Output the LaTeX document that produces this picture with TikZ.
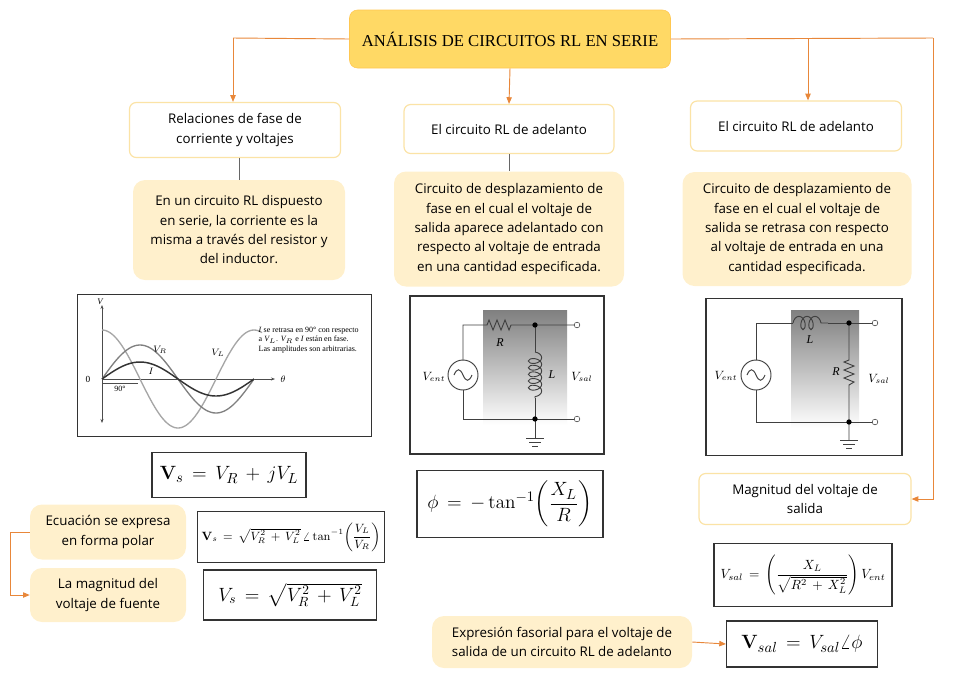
\documentclass[tikz,border=0pt]{standalone}
\usepackage{amsmath}
\usepackage[no-math]{fontspec}
\setmainfont{Open Sans}
\newfontfamily\titlefont{Liberation Serif}
\newfontfamily\serifp{Liberation Serif}
\usetikzlibrary{arrows.meta,decorations.pathmorphing}
\definecolor{org}{HTML}{E8873A}
\definecolor{ttl}{HTML}{FFD965}
\definecolor{bord}{HTML}{FBE3A6}
\definecolor{cream}{HTML}{FFF0CC}
\definecolor{shade}{HTML}{C8C8C8}
\tikzset{
 wbox/.style={draw=bord,line width=0.9pt,fill=white,rounded corners=5pt,align=center,font=\fontsize{10}{14.5}\selectfont},
 cbox/.style={fill=cream,rounded corners=9pt,align=center,font=\fontsize{10}{14.5}\selectfont},
 eqbox/.style={draw=black!80,line width=0.8pt,fill=white},
 conn/.style={org,line width=0.7pt},
 arr/.style={org,line width=0.7pt,-{Triangle[length=5pt,width=4pt]}},
 thin/.style={black!60,line width=0.6pt},
 wire/.style={black!75,line width=0.7pt},
 dotn/.style={circle,fill=black,inner sep=1.4pt},
 term/.style={circle,draw=black!75,fill=white,inner sep=1.5pt},
}
\begin{document}
\begin{tikzpicture}[x=0.75pt,y=-0.75pt]
\useasboundingbox (0,0) rectangle (963,676);
% title
\node[fill=ttl,draw=ttl!80!orange,rounded corners=6pt,minimum width=321*0.75pt,minimum height=58*0.75pt,font=\titlefont\fontsize{12.5}{14}\selectfont] (title) at (510,39) {ANÁLISIS DE CIRCUITOS RL EN SERIE};
% level-1 boxes
\node[wbox,minimum width=211*0.75pt,minimum height=55*0.75pt] (b1) at (235,130) {Relaciones de fase de\\corriente y voltajes};
\node[wbox,minimum width=210*0.75pt,minimum height=49*0.75pt] (b2) at (509,129) {El circuito RL de adelanto};
\node[wbox,minimum width=211*0.75pt,minimum height=50*0.75pt] (b3) at (796,126) {El circuito RL de adelanto};
\coordinate (tl) at (233,38); \coordinate (tr) at (808,38); \coordinate (tr2) at (933,38);
\draw[conn] (title.west) -- (tl);
\draw[arr] (tl) -- (b1.north -| tl);
\draw[arr] (title.south) -- (b2.north);
\draw[conn] (title.east) -- (tr2);
\draw[arr] (tr) -- (b3.north -| tr);
% desc boxes
\node[cbox,minimum width=212*0.75pt,minimum height=100*0.75pt] (d1) at (239,230) {En un circuito RL dispuesto\\en serie, la corriente es la\\misma a través del resistor y\\del inductor.};
\node[cbox,minimum width=230*0.75pt,minimum height=115*0.75pt] (d2) at (509,229) {Circuito de desplazamiento de\\fase en el cual el voltaje de\\salida aparece adelantado con\\respecto al voltaje de entrada\\en una cantidad especificada.};
\node[cbox,minimum width=229*0.75pt,minimum height=114*0.75pt] (d3) at (797,229) {Circuito de desplazamiento de\\fase en el cual el voltaje de\\salida se retrasa con respecto\\al voltaje de entrada en una\\cantidad especificada.};
\draw[thin] (b1.south -| d1.north) -- (d1.north);
\draw[thin] (b2.south) -- (d2.north);
% graph
\node[eqbox,line width=0.6pt,minimum width=294*0.75pt,minimum height=142*0.75pt] (g) at (224,365) {};
\begin{scope}[shift={(102,379)},x=0.75pt,y=-0.75pt]
 \draw[black!70,line width=0.6pt,-{Stealth[length=3pt]}] (0,0) -- (173,0);
 \draw[black!70,line width=0.6pt,{Stealth[length=3pt]}-{Stealth[length=3pt]}] (0,-74) -- (0,44);
 \draw[black!35,line width=1pt] plot[domain=0:160,samples=80,smooth] (\x,{-49*cos(\x/152*360)});
 \draw[black!50,line width=1pt] plot[domain=0:152,samples=80,smooth] (\x,{-34*sin(\x/152*360)});
 \draw[black!80,line width=1.1pt] plot[domain=0:152,samples=80,smooth] (\x,{-17*sin(\x/152*360)});
 \draw[black!70,line width=0.5pt] (0,4) -- (36,4);
 \node[font=\serifp\fontsize{6}{7}\selectfont] at (18,10) {90°};
 \node[font=\serifp\itshape\fontsize{6.5}{7}\selectfont] at (-2,-77) {V};
 \node[font=\serifp\fontsize{7}{7}\selectfont] at (-14,0) {0};
 \node[font=\serifp\itshape\fontsize{7}{7}\selectfont] at (181,0) {$\theta$};
 \node[font=\serifp\fontsize{7}{7}\selectfont] at (58,-29) {$V_R$};
 \node[font=\serifp\fontsize{7}{7}\selectfont] at (116,-26) {$V_L$};
 \node[font=\serifp\fontsize{7}{7}\selectfont] at (49,-8) {$I$};
 \node[font=\serifp\fontsize{6}{7.2}\selectfont,align=left,anchor=north west] at (152,-57) {\textit{I} se retrasa en 90° con respecto\\a \textit{V$_L$}. \textit{V$_R$} e \textit{I} están en fase.\\Las amplitudes son arbitrarias.};
\end{scope}
% circuit 2
\node[eqbox,minimum width=194*0.75pt,minimum height=158*0.75pt] (c2) at (507,375) {};
\fill[shade] (483,310) rectangle (567,425);
\coordinate (s2) at (463,375);
\draw[wire] (s2) ++(0,-15) -- (463,325) -- (487,325) -- (489,320) -- (493,330) -- (497,320) -- (501,330) -- (505,320) -- (509,330) -- (511,325) -- (535,325) -- (577,325);
\draw[wire] (s2) ++(0,15) -- (463,419) -- (577,419);
\draw[wire] (535,325) -- (535,352);
\draw[wire,decorate,decoration={coil,aspect=0.6,segment length=5pt,amplitude=5pt}] (535,352) -- (535,398);
\draw[wire] (535,398) -- (535,438);
\draw[wire] (526,438) -- (544,438) (529,442) -- (541,442) (532,446) -- (538,446);
\node[dotn] at (535,325) {}; \node[dotn] at (535,419) {};
\node[term] at (577,325) {}; \node[term] at (577,419) {};
\draw[wire,fill=white] (s2) circle (15);
\draw[wire] (454,375) .. controls (457,368) and (460,368) .. (463,375) .. controls (466,382) and (469,382) .. (472,375);
\node[font=\serifp\itshape\fontsize{9}{9}\selectfont] at (500,343) {R};
\node[font=\serifp\itshape\fontsize{9}{9}\selectfont] at (552,375) {L};
\node[font=\serifp\fontsize{9}{9}\selectfont] at (582,377) {$V_{sal}$};
\node[font=\serifp\fontsize{9}{9}\selectfont] at (434,377) {$V_{ent}$};
% circuit 3
\node[eqbox,minimum width=196*0.75pt,minimum height=157*0.75pt] (c3) at (804,377) {};
\fill[shade] (791,310) rectangle (859,428);
\coordinate (s3) at (756,375);
\draw[wire] (s3) ++(0,-15) -- (756,323) -- (793,323);
\draw[wire,decorate,decoration={coil,aspect=0.6,segment length=6pt,amplitude=5pt}] (793,323) -- (828,323);
\draw[wire] (828,323) -- (875,323);
\draw[wire] (s3) ++(0,15) -- (756,422) -- (875,422);
\draw[wire] (849,323) -- (849,360) -- (844,362) -- (854,366) -- (844,370) -- (854,374) -- (844,378) -- (854,382) -- (849,385) -- (849,440);
\draw[wire] (840,440) -- (858,440) (843,444) -- (855,444) (846,448) -- (852,448);
\node[dotn] at (849,323) {}; \node[dotn] at (849,422) {};
\node[term] at (875,323) {}; \node[term] at (875,422) {};
\draw[wire,fill=white] (s3) circle (15);
\draw[wire] (747,375) .. controls (750,368) and (753,368) .. (756,375) .. controls (759,382) and (762,382) .. (765,375);
\node[font=\serifp\itshape\fontsize{9}{9}\selectfont] at (810,340) {L};
\node[font=\serifp\itshape\fontsize{9}{9}\selectfont] at (836,372) {R};
\node[font=\serifp\fontsize{9}{9}\selectfont] at (879,379) {$V_{sal}$};
\node[font=\serifp\fontsize{9}{9}\selectfont] at (726,376) {$V_{ent}$};
% equations
\node[eqbox,minimum width=154*0.75pt,minimum height=45*0.75pt,font=\fontsize{15}{15}\selectfont] (e1) at (229,475) {$\mathbf{V}_s\,=\,V_R\,+\,jV_L$};
\node[eqbox,minimum width=186*0.75pt,minimum height=67*0.75pt,font=\fontsize{15}{15}\selectfont] (e2) at (510,504) {$\phi\,=\,-\tan^{-1}\!\left(\dfrac{X_L}{R}\right)$};
\node[wbox,minimum width=212*0.75pt,minimum height=51*0.75pt] (m) at (805,499) {Magnitud del voltaje de\\salida};
\draw[arr] (tr2) -- (m.east -| tr2) -- (m.east);
\node[eqbox,minimum width=178*0.75pt,minimum height=63*0.75pt,font=\fontsize{10}{10}\selectfont] (e3) at (803,575) {$V_{sal}\,=\,\left(\dfrac{X_L}{\sqrt{R^2\,+\,X_L^2}}\right)V_{ent}$};
\node[cbox,minimum width=156*0.75pt,minimum height=55*0.75pt] (p1) at (108,532) {Ecuación se expresa\\en forma polar};
\node[cbox,minimum width=156*0.75pt,minimum height=54*0.75pt] (p2) at (108,595) {La magnitud del\\voltaje de fuente};
\coordinate (lc) at (10,532);
\draw[conn] (p1.west) -- (lc);
\draw[arr] (lc) -- (p2.west -| lc) -- (p2.west);
\node[eqbox,minimum width=175*0.75pt,minimum height=51*0.75pt,font=\fontsize{9}{9}\selectfont] (e4) at (291,537) {$\mathbf{V}_s\,=\,\sqrt{V_R^2\,+\,V_L^2}\,\angle\tan^{-1}\!\left(\dfrac{V_L}{V_R}\right)$};
\node[eqbox,minimum width=173*0.75pt,minimum height=50*0.75pt,font=\fontsize{14}{14}\selectfont] (e5) at (290,595) {$V_s\,=\,\sqrt{V_R^2\,+\,V_L^2}$};
\node[cbox,minimum width=260*0.75pt,minimum height=52*0.75pt] (f) at (562,642) {Expresión fasorial para el voltaje de\\salida de un circuito RL de adelanto};
\node[eqbox,minimum width=151*0.75pt,minimum height=46*0.75pt,font=\fontsize{15}{15}\selectfont] (e6) at (802,644) {$\mathbf{V}_{sal}\,=\,V_{sal}\angle\phi$};
\draw[arr] (f.east) -- (e6.west);
\end{tikzpicture}
\end{document}
